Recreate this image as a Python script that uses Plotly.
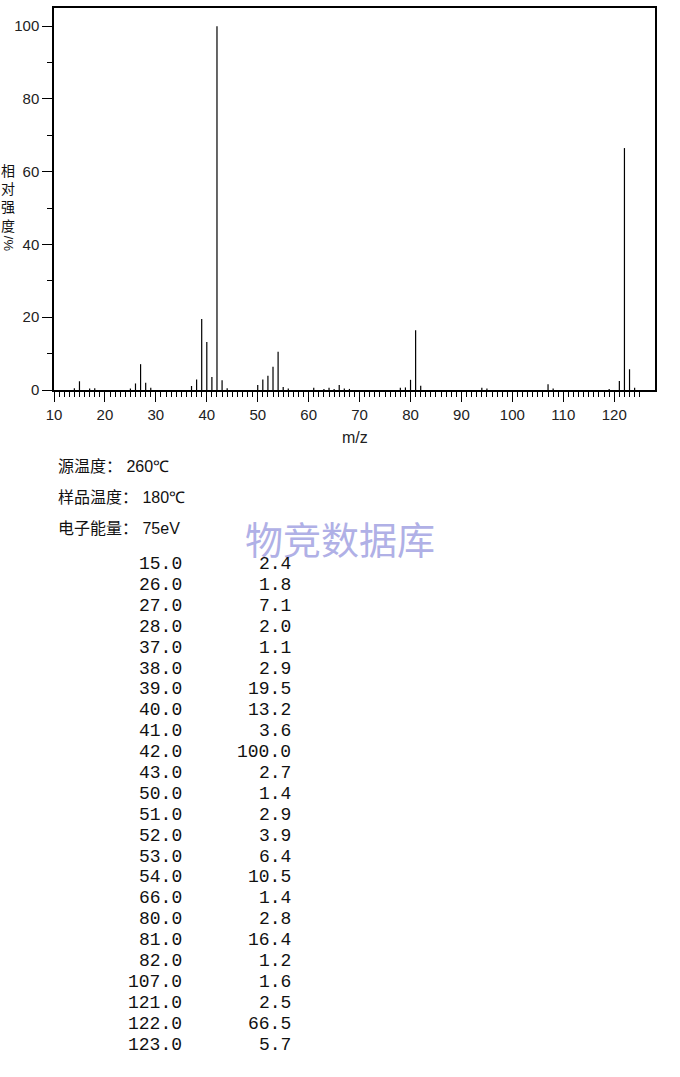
import plotly.graph_objects as go

# ---- data ----
mz = [15, 26, 27, 28, 37, 38, 39, 40, 41, 42, 43, 50, 51, 52, 53, 54, 66, 80, 81, 82, 107, 121, 122, 123]
intensity = [2.4, 1.8, 7.1, 2.0, 1.1, 2.9, 19.5, 13.2, 3.6, 100.0, 2.7, 1.4, 2.9, 3.9, 6.4, 10.5,
             1.4, 2.8, 16.4, 1.2, 1.6, 2.5, 66.5, 5.7]
# small peaks visible in the spectrum but below the 1% table cutoff (estimated)
minor_mz = [14, 17, 18, 25, 29, 44, 55, 56, 61, 63, 64, 65, 67, 68, 78, 79, 94, 95, 108, 119, 124]
minor_int = [0.5, 0.4, 0.5, 0.4, 0.6, 0.5, 0.8, 0.4, 0.6, 0.3, 0.6, 0.3, 0.4, 0.3, 0.6, 0.7, 0.6, 0.4, 0.4, 0.3, 0.6]

x_ticks = [10, 20, 30, 40, 50, 60, 70, 80, 90, 100, 110, 120]
y_ticks = [0, 20, 40, 60, 80, 100]
y_title_chars = ["相", "对", "强", "度"]
info_labels = ["源温度：", "样品温度：", "电子能量："]
info_values = ["260℃", "180℃", "75eV"]
watermark = "物竞数据库"

W, H = 680, 1077
L, R, T, B = 54, 25, 6, 687
PW, PH = W - L - R, H - T - B


def px(xp):
    return (xp - L) / PW


def py(yp):
    return (H - B - yp) / PH


all_mz = sorted(mz + minor_mz)
lookup = dict(zip(mz, intensity))
lookup.update(dict(zip(minor_mz, minor_int)))
xs, ys = [], []
for m in all_mz:
    xs += [m, m, None]
    ys += [0, lookup[m], None]

fig = go.Figure()
fig.add_trace(go.Scatter(x=xs, y=ys, mode="lines", line=dict(color="black", width=1.2),
                         hoverinfo="skip", showlegend=False))

tickfont = dict(family="Liberation Sans, Arial, sans-serif", size=15, color="#222")
fig.update_layout(
    width=W, height=H,
    margin=dict(l=L, r=R, t=T, b=B),
    paper_bgcolor="white", plot_bgcolor="white",
    showlegend=False,
    xaxis=dict(range=[10, 128], tickmode="array", tickvals=x_ticks, ticks="outside",
               ticklen=10, tickwidth=1.3, tickcolor="black",
               minor=dict(tickmode="array", tickvals=list(range(10, 126)), ticks="outside",
                          ticklen=5, tickwidth=1.1, tickcolor="black", showgrid=False),
               showline=True, linecolor="black", linewidth=1.5, mirror=True,
               showgrid=False, zeroline=False, tickfont=tickfont),
    yaxis=dict(range=[0, 105], tickmode="array", tickvals=y_ticks, ticks="outside",
               ticklen=10, tickwidth=1.3, tickcolor="black",
               minor=dict(tickmode="array", tickvals=[10, 30, 50, 70, 90], ticks="outside",
                          ticklen=5, tickwidth=1.1, tickcolor="black", showgrid=False),
               showline=True, linecolor="black", linewidth=1.5, mirror=True,
               showgrid=False, zeroline=False, tickfont=tickfont),
)

ann = []
cjk = "Noto Sans CJK SC"
# y axis title (stacked characters)
ann.append(dict(x=px(8), y=py(196), xref="paper", yref="paper", text="<br>".join(y_title_chars),
                showarrow=False, xanchor="center", yanchor="middle",
                font=dict(family=cjk, size=14, color="#111")))
ann.append(dict(x=px(8), y=py(243), xref="paper", yref="paper", text="/%", textangle=90,
                showarrow=False, xanchor="center", yanchor="middle",
                font=dict(family="Liberation Sans", size=13, color="#111")))
# x axis title
ann.append(dict(x=px(355), y=py(438), xref="paper", yref="paper", text="m/z",
                showarrow=False, xanchor="center", yanchor="middle",
                font=dict(family="Liberation Sans", size=16, color="#222")))
# info lines
for i, (lab, val) in enumerate(zip(info_labels, info_values)):
    txt = (lab + "<span style='font-family:Liberation Sans;font-size:16px'> "
           + val + "</span>")
    ann.append(dict(x=px(56), y=py(465 + i * 31.5), xref="paper", yref="paper", text=txt,
                    showarrow=False, xanchor="left", yanchor="middle",
                    font=dict(family=cjk, size=16, color="#111")))
# watermark
ann.append(dict(x=px(340), y=py(538), xref="paper", yref="paper", text=watermark,
                showarrow=False, xanchor="center", yanchor="middle",
                font=dict(family=cjk, size=38, color="#b0b0e6")))
# table
mono = dict(family="Liberation Mono, Courier New, monospace", size=18, color="#111")
for i, (m, v) in enumerate(zip(mz, intensity)):
    yy = py(565 + i * 21)
    ann.append(dict(x=px(184), y=yy, xref="paper", yref="paper", text=f"{m:.1f}",
                    showarrow=False, xanchor="right", yanchor="middle", font=mono))
    ann.append(dict(x=px(293), y=yy, xref="paper", yref="paper", text=f"{v:.1f}",
                    showarrow=False, xanchor="right", yanchor="middle", font=mono))

fig.update_layout(annotations=ann)
fig.write_html("out.html", config={"displayModeBar": False},
               post_script="document.body.style.margin='0';")
